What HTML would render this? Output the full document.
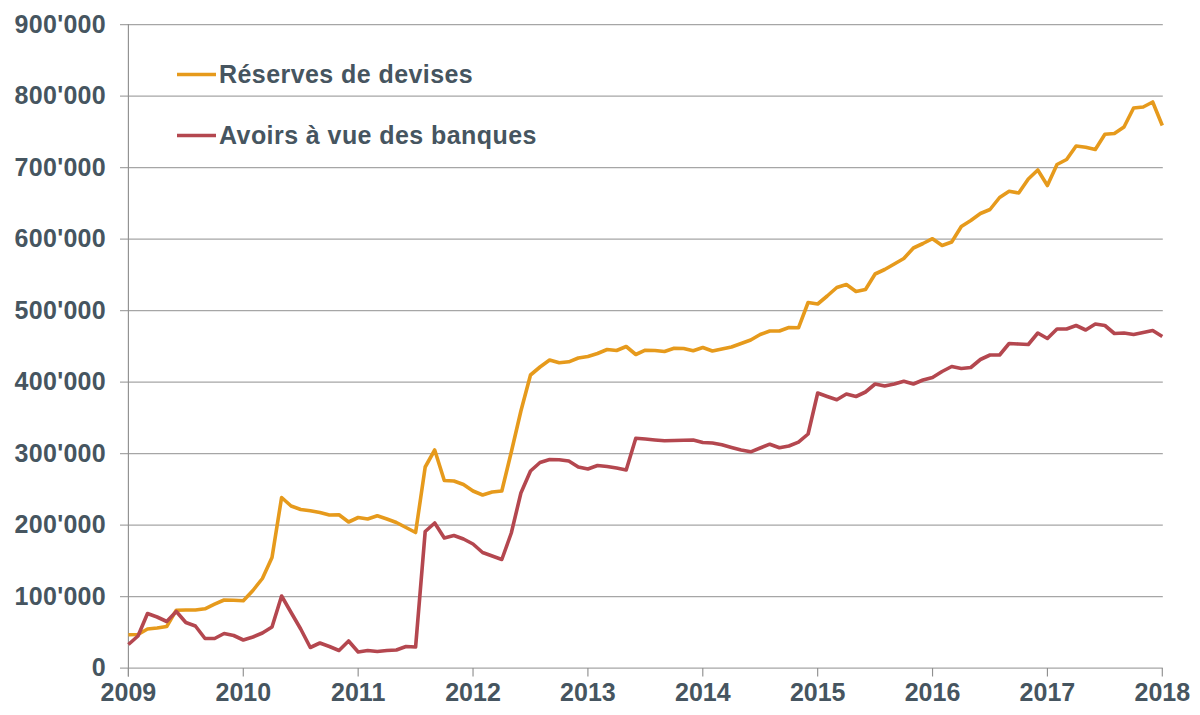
<!DOCTYPE html>
<html><head><meta charset="utf-8"><style>
html,body{margin:0;padding:0;background:#fff;width:1200px;height:715px;overflow:hidden}
svg{display:block}
text{font-family:"Liberation Sans",sans-serif;font-weight:bold;font-size:25px;fill:#465560}
.yl{letter-spacing:0.3px}
.lg{letter-spacing:0.43px}
</style></head><body>
<svg width="1200" height="715" viewBox="0 0 1200 715">
<rect width="1200" height="715" fill="#fff"/>
<g stroke="#a6a6a6" stroke-width="1.25" fill="none">
<line x1="120" y1="24.50" x2="1162.8" y2="24.50"/>
<line x1="120" y1="96.00" x2="1162.8" y2="96.00"/>
<line x1="120" y1="167.50" x2="1162.8" y2="167.50"/>
<line x1="120" y1="239.00" x2="1162.8" y2="239.00"/>
<line x1="120" y1="310.50" x2="1162.8" y2="310.50"/>
<line x1="120" y1="382.00" x2="1162.8" y2="382.00"/>
<line x1="120" y1="453.50" x2="1162.8" y2="453.50"/>
<line x1="120" y1="525.00" x2="1162.8" y2="525.00"/>
<line x1="120" y1="596.50" x2="1162.8" y2="596.50"/>
<line x1="120" y1="668.00" x2="1162.8" y2="668.00"/>
</g>
<g stroke="#909090" stroke-width="1.15" fill="none">
<line x1="128.4" y1="24" x2="128.4" y2="676.5"/>
<line x1="128.40" y1="668" x2="128.40" y2="676.5"/>
<line x1="243.28" y1="668" x2="243.28" y2="676.5"/>
<line x1="358.16" y1="668" x2="358.16" y2="676.5"/>
<line x1="473.03" y1="668" x2="473.03" y2="676.5"/>
<line x1="587.91" y1="668" x2="587.91" y2="676.5"/>
<line x1="702.79" y1="668" x2="702.79" y2="676.5"/>
<line x1="817.67" y1="668" x2="817.67" y2="676.5"/>
<line x1="932.54" y1="668" x2="932.54" y2="676.5"/>
<line x1="1047.42" y1="668" x2="1047.42" y2="676.5"/>
<line x1="1162.30" y1="668" x2="1162.30" y2="676.5"/>
</g>
<g>
<text class="yl" x="106" y="32.7" text-anchor="end">900'000</text>
<text class="yl" x="106" y="104.2" text-anchor="end">800'000</text>
<text class="yl" x="106" y="175.7" text-anchor="end">700'000</text>
<text class="yl" x="106" y="247.2" text-anchor="end">600'000</text>
<text class="yl" x="106" y="318.7" text-anchor="end">500'000</text>
<text class="yl" x="106" y="390.2" text-anchor="end">400'000</text>
<text class="yl" x="106" y="461.7" text-anchor="end">300'000</text>
<text class="yl" x="106" y="533.2" text-anchor="end">200'000</text>
<text class="yl" x="106" y="604.7" text-anchor="end">100'000</text>
<text class="yl" x="106" y="676.2" text-anchor="end">0</text>
<text x="128.4" y="701" text-anchor="middle">2009</text>
<text x="243.3" y="701" text-anchor="middle">2010</text>
<text x="358.2" y="701" text-anchor="middle">2011</text>
<text x="473.0" y="701" text-anchor="middle">2012</text>
<text x="587.9" y="701" text-anchor="middle">2013</text>
<text x="702.8" y="701" text-anchor="middle">2014</text>
<text x="817.7" y="701" text-anchor="middle">2015</text>
<text x="932.5" y="701" text-anchor="middle">2016</text>
<text x="1047.4" y="701" text-anchor="middle">2017</text>
<text x="1162.3" y="701" text-anchor="middle">2018</text>
</g>
<polyline fill="none" stroke="#E69A1C" stroke-width="3.6" stroke-linejoin="round" stroke-linecap="butt" points="128.4,634.8 138.0,634.5 147.5,629.0 157.1,628.0 166.7,626.5 176.3,610.2 185.8,610.0 195.4,610.0 205.0,608.8 214.6,604.2 224.1,600.0 233.7,600.2 243.3,600.8 252.9,590.5 262.4,578.5 272.0,557.5 281.6,497.5 291.1,506.0 300.7,509.5 310.3,510.8 319.9,512.5 329.4,515.0 339.0,514.8 348.6,522.0 358.2,517.5 367.7,519.0 377.3,515.8 386.9,519.0 396.4,522.5 406.0,527.5 415.6,532.5 425.2,467.0 434.7,450.0 444.3,480.5 453.9,481.0 463.5,484.5 473.0,491.0 482.6,495.0 492.2,492.0 501.8,491.0 511.3,452.0 520.9,411.0 530.5,375.0 540.0,367.0 549.6,360.0 559.2,362.8 568.8,361.8 578.3,358.0 587.9,356.5 597.5,353.5 607.1,349.5 616.6,350.5 626.2,346.5 635.8,354.5 645.3,350.2 654.9,350.5 664.5,351.5 674.1,348.3 683.6,348.5 693.2,350.8 702.8,347.5 712.4,351.0 721.9,349.0 731.5,347.0 741.1,343.5 750.7,340.0 760.2,334.5 769.8,331.0 779.4,331.0 788.9,327.5 798.5,327.8 808.1,302.5 817.7,304.0 827.2,296.0 836.8,287.5 846.4,284.5 856.0,291.5 865.5,289.5 875.1,274.0 884.7,269.5 894.3,264.0 903.8,258.5 913.4,248.0 923.0,243.5 932.5,238.7 942.1,245.5 951.7,242.0 961.3,226.5 970.8,220.5 980.4,213.5 990.0,209.5 999.6,197.5 1009.1,191.2 1018.7,193.0 1028.3,179.0 1037.8,170.0 1047.4,185.5 1057.0,164.5 1066.6,159.5 1076.1,146.0 1085.7,147.3 1095.3,149.5 1104.9,134.2 1114.4,133.5 1124.0,127.0 1133.6,108.0 1143.2,107.0 1152.7,102.0 1162.3,125.5"/>
<polyline fill="none" stroke="#B4474F" stroke-width="3.6" stroke-linejoin="round" stroke-linecap="butt" points="128.4,644.5 138.0,636.0 147.5,613.5 157.1,617.0 166.7,621.5 176.3,611.5 185.8,622.5 195.4,626.0 205.0,638.5 214.6,638.5 224.1,633.5 233.7,635.5 243.3,640.0 252.9,637.0 262.4,633.0 272.0,627.0 281.6,596.0 291.1,612.5 300.7,629.0 310.3,647.5 319.9,643.0 329.4,646.5 339.0,650.5 348.6,641.0 358.2,652.0 367.7,650.5 377.3,651.5 386.9,650.5 396.4,650.0 406.0,646.5 415.6,647.0 425.2,531.5 434.7,523.0 444.3,538.0 453.9,535.5 463.5,539.0 473.0,544.0 482.6,552.5 492.2,556.0 501.8,559.5 511.3,533.0 520.9,493.0 530.5,471.0 540.0,462.5 549.6,459.5 559.2,459.8 568.8,461.0 578.3,467.0 587.9,469.0 597.5,465.5 607.1,466.5 616.6,468.0 626.2,470.0 635.8,438.2 645.3,439.0 654.9,440.0 664.5,440.8 674.1,440.5 683.6,440.3 693.2,440.0 702.8,442.5 712.4,443.0 721.9,444.8 731.5,447.5 741.1,450.0 750.7,451.8 760.2,448.0 769.8,444.2 779.4,447.8 788.9,446.0 798.5,442.2 808.1,434.0 817.7,393.0 827.2,396.5 836.8,399.8 846.4,394.0 856.0,396.5 865.5,392.0 875.1,384.0 884.7,386.0 894.3,384.0 903.8,381.2 913.4,384.0 923.0,380.0 932.5,377.5 942.1,371.5 951.7,366.5 961.3,368.5 970.8,367.5 980.4,359.5 990.0,355.0 999.6,355.0 1009.1,343.5 1018.7,344.0 1028.3,344.5 1037.8,333.0 1047.4,338.5 1057.0,329.0 1066.6,329.0 1076.1,325.5 1085.7,330.0 1095.3,324.0 1104.9,325.5 1114.4,333.5 1124.0,333.0 1133.6,334.5 1143.2,332.5 1152.7,330.5 1162.3,336.5"/>
<line x1="177" y1="74.5" x2="216" y2="74.5" stroke="#E69A1C" stroke-width="3.3" stroke-linecap="butt"/>
<line x1="177" y1="135.5" x2="216" y2="135.5" stroke="#B4474F" stroke-width="3.3" stroke-linecap="butt"/>
<text class="lg" x="219" y="83">Réserves de devises</text>
<text class="lg" x="219" y="144">Avoirs à vue des banques</text>
</svg>
</body></html>
